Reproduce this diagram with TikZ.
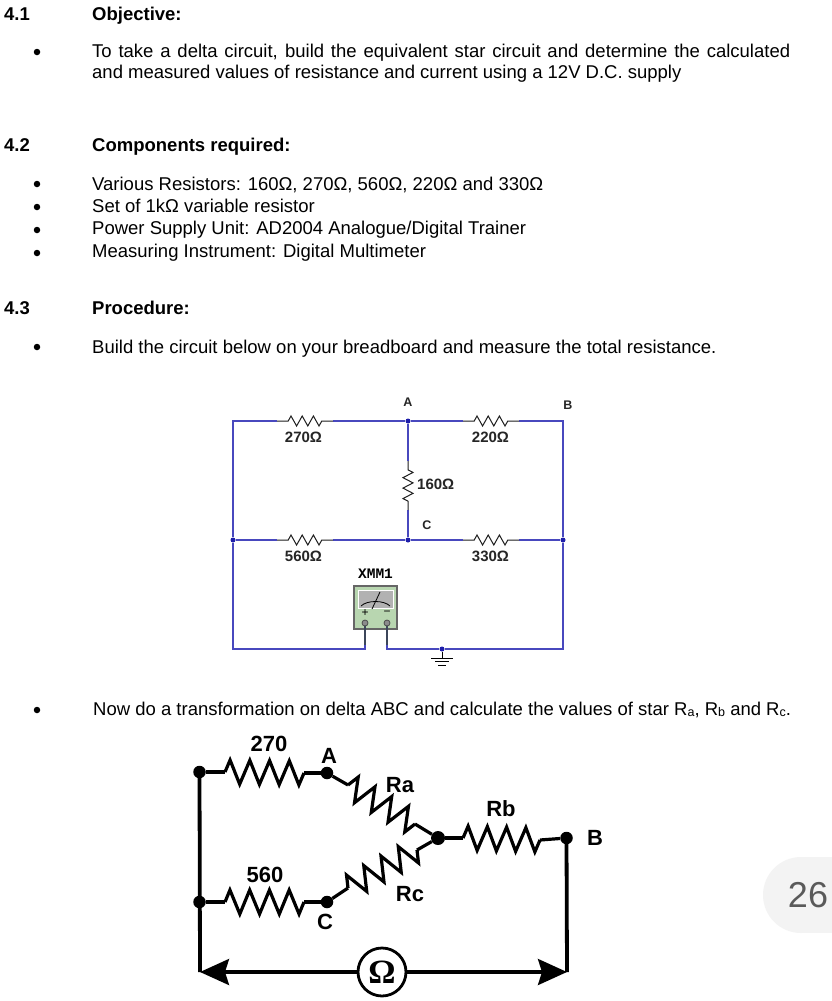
\documentclass[tikz,border=0pt]{standalone}
\usepackage{fontspec}
\setmainfont{Liberation Sans}
\newfontfamily\monof{Liberation Mono}
\newfontfamily\serf{Liberation Serif}
\usetikzlibrary{calc,arrows.meta}
\definecolor{wireblue}{RGB}{72,72,190}
\definecolor{dotblue}{RGB}{30,30,170}
\definecolor{rescol}{RGB}{30,30,30}
\definecolor{pagebg}{RGB}{243,243,243}
\definecolor{pagefg}{RGB}{90,90,90}
\definecolor{metergreen}{RGB}{184,214,176}
\definecolor{meterdark}{RGB}{60,70,90}
\newcommand\zigamp{5pt}
\newcommand\zigres[5][]{%
  \draw[#1] (#2) -- ($(#2)!#4!(#3)$)
  \foreach \k [evaluate=\k as \t using {#4+(1-2*#4)*(\k-0.5)/#5},
               evaluate=\k as \ang using {90*(2*mod(\k,2)-1)}] in {1,...,#5}
     { -- ($(#2)!\t!(#3)!\zigamp!\ang:(#3)$) }
  -- ($(#2)!1-#4!(#3)$) -- (#3);}
\tikzset{
  x=1pt,y=-1pt,
  txt/.style={anchor=base west,inner sep=0pt,font=\fontsize{18.5}{20}\selectfont},
  head/.style={anchor=base west,inner sep=0pt,font=\fontsize{18.5}{20}\selectfont\bfseries},
  bul/.style={circle,fill=black,inner sep=0pt,minimum size=6.5pt},
  wire/.style={draw=wireblue,line width=1.2pt},
  jn/.style={circle,fill=dotblue,inner sep=0pt,minimum size=5pt},
  smallres/.style={draw=rescol,line width=1pt},
  lab/.style={inner sep=0pt,font=\fontsize{15}{17}\selectfont\bfseries,text=black!85},
  lett/.style={inner sep=0pt,font=\fontsize{12.5}{14}\selectfont\bfseries,text=black!85},
  thick wire/.style={draw=black,line width=3.8pt},
  bigres/.style={draw=black,line width=3.2pt,line join=miter},
  bdot/.style={circle,fill=black,inner sep=0pt,minimum size=12.5pt},
  big/.style={inner sep=0pt,font=\fontsize{22}{24}\selectfont\bfseries},
}
\begin{document}
\begin{tikzpicture}
\useasboundingbox (0,0) rectangle (832,1001);
\fill[white] (0,0) rectangle (832,1001);
% text
\node[head] (n41) at (4,20) {4.1};
\node[head] (obj) at (92,20) {Objective:};
\node[bul] (b1) at (37,52) {};
\node[txt] (t1) at (92,57) {\makebox[698pt][s]{To take a delta circuit, build the equivalent star circuit and determine the calculated}};
\node[txt] (t2) at (92,78) {and measured values of resistance and current using a 12V D.C. supply};
\node[head] (n42) at (4,151) {4.2};
\node[head] (comp) at (92,151) {Components required:};
\node[bul] (b2) at (37,184) {};
\node[bul] (b3) at (37,207) {};
\node[bul] (b4) at (37,230) {};
\node[bul] (b5) at (37,253) {};
\node[txt] (t3) at (92,190) {Various Resistors: 160Ω, 270Ω, 560Ω, 220Ω and 330Ω};
\node[txt] (t4) at (92,212) {Set of 1kΩ variable resistor};
\node[txt] (t5) at (92,234) {Power Supply Unit: AD2004 Analogue/Digital Trainer};
\node[txt] (t6) at (92,257) {Measuring Instrument: Digital Multimeter};
\node[head] (n43) at (4,314) {4.3};
\node[head] (proc) at (92,314) {Procedure:};
\node[bul] (b6) at (37,347) {};
\node[txt] (t7) at (92,353) {Build the circuit below on your breadboard and measure the total resistance.};
\node[bul] (b7) at (37,710) {};
\node[txt] (t8) at (93,715) {Now do a transformation on delta ABC and calculate the values of star R\raisebox{-1pt}{\fontsize{12.5}{12}\selectfont a}, R\raisebox{-1pt}{\fontsize{12.5}{12}\selectfont b} and R\raisebox{-1pt}{\fontsize{12.5}{12}\selectfont c}.};
% first circuit
\coordinate (TL) at (233,421);
\coordinate (TR) at (563,421);
\coordinate (BL) at (233,649);
\coordinate (BR) at (563,649);
\node[jn] (A) at (408,421) {};
\node[jn] (C) at (408,540) {};
\node[jn] (ML) at (233,540) {};
\node[jn] (MR) at (563,540) {};
\node[jn] (G) at (442,649) {};
\coordinate (r1a) at (277,421); \coordinate (r1b) at (333,421);
\coordinate (r2a) at (463,421); \coordinate (r2b) at (519,421);
\coordinate (r3a) at (277,540); \coordinate (r3b) at (333,540);
\coordinate (r4a) at (463,540); \coordinate (r4b) at (519,540);
\coordinate (r5a) at (408,461); \coordinate (r5b) at (408,510);
\coordinate (mp) at (365,623);
\coordinate (mm) at (387,623);
% meter body
\draw[draw=black!60,fill=metergreen,line width=1.2pt] (354,586) rectangle (397,629);
\fill[black!30] (358,590) rectangle (393,608);
\draw[white,line width=.7pt] (358,590) rectangle (393,608);
\draw[black,line width=.8pt] (361,606) .. controls (367,600) and (384,600) .. (390,606);
\draw[black,line width=.8pt] (372,609) -- (380,592);
\node[inner sep=0pt,font=\fontsize{12}{12}\selectfont] (pl) at (365,613) {+};
\node[inner sep=0pt,font=\fontsize{12}{12}\selectfont] (mi) at (387,613) {−};
% wires
\draw[wire] (r1a) -- (TL) -- (ML) -- (BL) -| (mp);
\draw[wire] (r1b) -- (A) -- (r2a);
\draw[wire] (r2b) -- (TR) -- (MR) -- (BR) -- (G);
\draw[wire] (r3a) -- (ML);
\draw[wire] (r3b) -- (C) -- (r4a);
\draw[wire] (r4b) -- (MR);
\draw[wire] (A) -- (r5a);
\draw[wire] (C) -- (r5b);
\draw[wire] (G) -| (mm);
\draw[meterdark,line width=1.3pt] (mp) -- (365,645);
\draw[meterdark,line width=1.3pt] (mm) -- (387,645);
\draw[black!70,fill=black!45,line width=.8pt] (mp) circle (3pt);
\draw[black!70,fill=black!45,line width=.8pt] (mm) circle (3pt);
\zigres[smallres]{r1a}{r1b}{0.2}{6}
\zigres[smallres]{r2a}{r2b}{0.2}{6}
\zigres[smallres]{r3a}{r3b}{0.2}{6}
\zigres[smallres]{r4a}{r4b}{0.2}{6}
\zigres[smallres]{r5a}{r5b}{0.18}{6}
\node[lab] (l270) at (303.5,437) {270Ω};
\node[lab] (l220) at (490.5,437) {220Ω};
\node[lab] (l560) at (303.5,556) {560Ω};
\node[lab] (l330) at (490.5,556) {330Ω};
\node[lab,anchor=west] (l160) at (417,484) {160Ω};
\node[lett] (la) at (408,402) {A};
\node[lett] (lb) at (568,405) {B};
\node[lett] (lc) at (427,525) {C};
\node[inner sep=0pt,font=\fontsize{14.5}{16}\selectfont\monof\bfseries] (xmm) at (375.5,574) {XMM1};
% ground
\coordinate (gd) at (442,658);
\draw[black,line width=.9pt] (G) -- (gd);
\draw[black,line width=.9pt] (431,658) -- (453,658);
\draw[black,line width=.9pt] (435,661.5) -- (449,661.5);
\draw[black,line width=.9pt] (438,665) -- (446,665);
% second circuit
\node[bdot] (P1) at (199.5,772) {};
\node[bdot] (P2) at (199.5,902) {};
\node[bdot] (PA) at (327,773) {};
\node[bdot] (PC) at (327,902) {};
\node[bdot,minimum size=14pt] (PO) at (438,838) {};
\node[bdot] (PB) at (566.5,838) {};
\coordinate (CBL) at (200,972);
\coordinate (CBR) at (567,972);
\node[draw=black,line width=2.8pt,circle,minimum size=48pt,inner sep=0pt,font=\fontsize{34}{34}\selectfont\serf\bfseries] (Om) at (382,972) {Ω};
\draw[thick wire] (P1.center) -- (CBL);
\draw[thick wire] (PB.center) -- (CBR);
\draw[line width=3.2pt,-{Stealth[length=29pt,width=26pt,inset=4pt]}] (Om) -- (CBL);
\draw[line width=3.2pt,-{Stealth[length=29pt,width=26pt,inset=4pt]}] (Om) -- (CBR);
\renewcommand\zigamp{12pt}
\coordinate (a1) at (225,772); \coordinate (a2) at (304,773);
\coordinate (c1) at (225,902); \coordinate (c2) at (304,902);
\coordinate (ra1) at (348,785); \coordinate (ra2) at (415,824);
\coordinate (rc1) at (348,888); \coordinate (rc2) at (417,850);
\coordinate (rb1) at (463,838); \coordinate (rb2) at (540,840);
\zigres[bigres]{a1}{a2}{0}{8}
\zigres[bigres]{c1}{c2}{0}{8}
\zigres[bigres]{ra1}{ra2}{0}{8}
\zigres[bigres]{rc1}{rc2}{0}{8}
\zigres[bigres]{rb1}{rb2}{0}{8}
\draw[bigres] (P1) -- (a1);
\draw[bigres] (a2) -- (PA);
\draw[bigres] (P2) -- (c1);
\draw[bigres] (c2) -- (PC);
\draw[bigres] (PA) -- (ra1);
\draw[bigres] (ra2) -- (PO);
\draw[bigres] (PC) -- (rc1);
\draw[bigres] (rc2) -- (PO);
\draw[bigres] (PO) -- (rb1);
\draw[bigres] (rb2) -- (PB);
\node[big] (L270) at (269,744) {270};
\node[big] (L560) at (265,875) {560};
\node[big] (LA) at (329,756) {A};
\node[big] (LC) at (325,922) {C};
\node[big] (LB) at (595,838) {B};
\node[big] (LRa) at (400,785) {Ra};
\node[big] (LRb) at (501,809) {Rb};
\node[big] (LRc) at (410,894) {Rc};
% page badge
\fill[pagebg] (801,857) rectangle (832,933);
\fill[pagebg] (801,895) circle[radius=38pt];
\node[inner sep=0pt,text=pagefg,font=\fontsize{36}{38}\selectfont] (pg) at (808,895) {26};
\end{tikzpicture}
\end{document}
